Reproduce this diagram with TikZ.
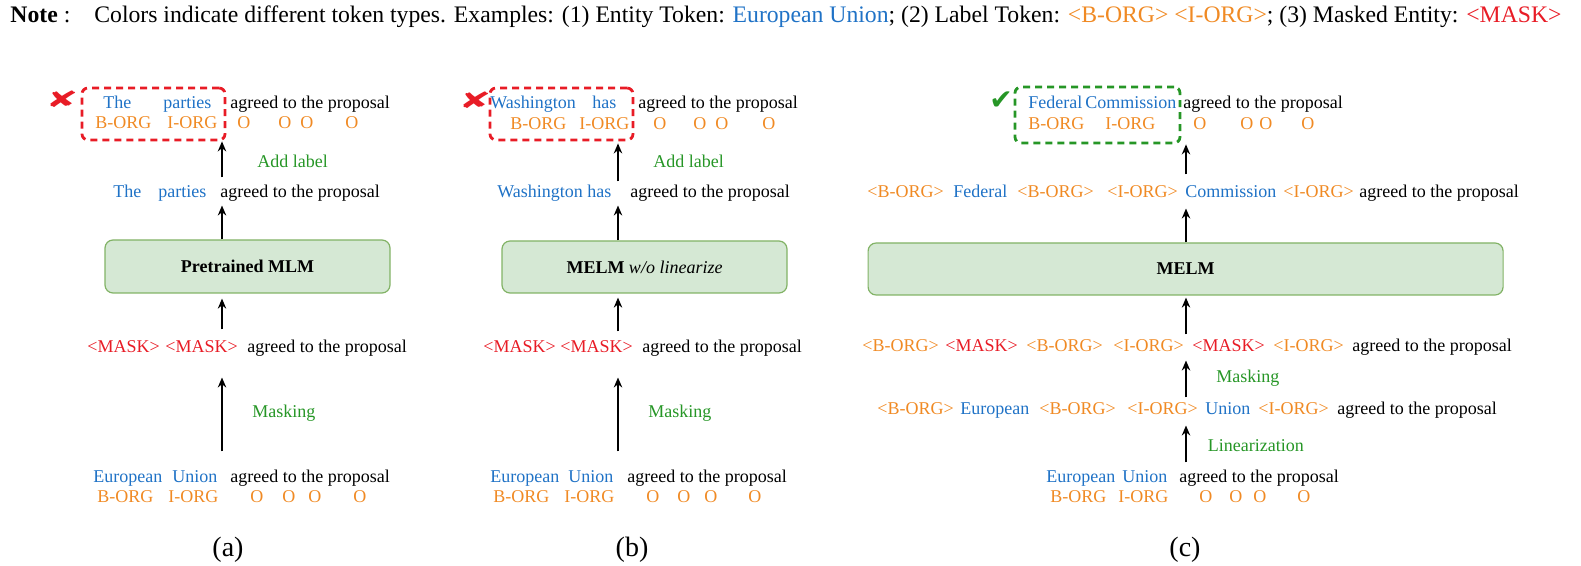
\documentclass[tikz,border=0pt]{standalone}
\usepackage{fontspec}
\setmainfont{Liberation Serif}
\newfontfamily\symfont{DejaVu Sans}
\usetikzlibrary{arrows.meta}
\definecolor{enblue}{RGB}{31,114,198}
\definecolor{laborange}{RGB}{240,138,36}
\definecolor{maskred}{RGB}{232,28,38}
\definecolor{opgreen}{RGB}{38,150,38}
\definecolor{boxfill}{HTML}{D5E8D4}
\definecolor{boxdraw}{HTML}{82B366}
\tikzset{
	tok/.style={anchor=west,inner sep=0pt,text height=6.3pt,text depth=1.8pt},
	oplabel/.style={tok,text=opgreen},
	arr/.style={->,line width=0.8pt},
	mlm/.style={draw=boxdraw,fill=boxfill,rounded corners=4pt,line width=0.6pt},
	wrongbox/.style={draw=maskred,dash pattern=on 3.5pt off 2.5pt,line width=1.4pt,rounded corners=3pt},
	rightbox/.style={wrongbox,draw=opgreen},
	crossmark/.style={text=maskred,font=\symfont\fontsize{14}{14}\selectfont,xscale=1.4,yscale=0.8,inner sep=0pt},
	tickmark/.style={text=opgreen,font=\symfont\fontsize{14}{14}\selectfont,inner sep=0pt},
	caption/.style={font=\fontsize{14}{16}\selectfont,inner sep=0pt}
}
\begin{document}
\begin{tikzpicture}[x=0.5pt,y=-0.5pt,font=\fontsize{9}{11}\selectfont,>={Stealth[length=5pt,width=4.2pt]}]
	\useasboundingbox (0,0) rectangle (1581,566);
	\node[anchor=west,inner sep=0pt,font=\fontsize{11.85}{14}\selectfont] (note) at (10,17) {\textbf{Note}\hspace{3pt}:\hspace*{12pt}Colors indicate different token types. Examples: (1) Entity Token: \textcolor{enblue}{European Union}; (2) Label Token: \textcolor{laborange}{<B-ORG> <I-ORG>}; (3) Masked Entity: \textcolor{maskred}{<MASK>}};

	% (a)
	\coordinate (axa) at (222,0);
	\node[wrongbox,minimum width=71.5pt,minimum height=26pt] (wa) at (153.5,114) {};
	\node[crossmark] (xa) at (62,99) {✘};
	\foreach \x/\col/\txt [count=\i] in {103/enblue/The,163/enblue/parties,230/black/agreed to the proposal}
		\node[tok,text=\col] (a1-\i) at (\x,104) {\txt};
	\foreach \x/\txt [count=\i] in {95/B-ORG,167/I-ORG,237/O,278/O,300/O,345/O}
		\node[tok,text=laborange] (al1-\i) at (\x,124) {\txt};
	\node[oplabel] (adda) at (257,163) {Add label};
	\foreach \x/\col/\txt [count=\i] in {113/enblue/The,158/enblue/parties,220/black/agreed to the proposal}
		\node[tok,text=\col] (a2-\i) at (\x,193) {\txt};
	\node[mlm,minimum width=142.5pt,minimum height=26.5pt] (mlma) at (247.5,266.5) {\textbf{Pretrained MLM}};
	\foreach \x/\col/\txt [count=\i] in {87/maskred/<MASK>,165/maskred/<MASK>,247/black/agreed to the proposal}
		\node[tok,text=\col] (a3-\i) at (\x,348) {\txt};
	\node[oplabel] (maska) at (252,413) {Masking};
	\foreach \x/\col/\txt [count=\i] in {93/enblue/European,172/enblue/Union,230/black/agreed to the proposal}
		\node[tok,text=\col] (a4-\i) at (\x,478) {\txt};
	\foreach \x/\txt [count=\i] in {97/B-ORG,168/I-ORG,250/O,282/O,308/O,353/O}
		\node[tok,text=laborange] (al4-\i) at (\x,498) {\txt};
	\node[caption] (capa) at (228,550) {(a)};
	\draw[arr,shorten <=3.5pt] (a2-1.north -| axa) -- (wa.south -| axa);
	\draw[arr,shorten >=2pt] (mlma.north -| axa) -- (a2-1.south -| axa);
	\draw[arr,shorten <=5pt,shorten >=2.5pt] (a3-1.north -| axa) -- (mlma.south -| axa);
	\draw[arr,shorten <=9pt,shorten >=10.5pt] (a4-1.north -| axa) -- (a3-1.south -| axa);

	% (b)
	\coordinate (axb) at (618,0);
	\node[wrongbox,minimum width=71.5pt,minimum height=26pt] (wb) at (561.5,114) {};
	\node[crossmark] (xb) at (475,100) {✘};
	\foreach \x/\col/\txt [count=\i] in {490/enblue/Washington,592/enblue/has,638/black/agreed to the proposal}
		\node[tok,text=\col] (b1-\i) at (\x,104) {\txt};
	\foreach \x/\txt [count=\i] in {510/B-ORG,579/I-ORG,653/O,693/O,715/O,762/O}
		\node[tok,text=laborange] (bl1-\i) at (\x,125) {\txt};
	\node[oplabel] (addb) at (653,163) {Add label};
	\foreach \x/\col/\txt [count=\i] in {497/enblue/Washington,587/enblue/has,630/black/agreed to the proposal}
		\node[tok,text=\col] (b2-\i) at (\x,193) {\txt};
	\node[mlm,minimum width=142.5pt,minimum height=26pt] (mlmb) at (644.5,267) {\textbf{MELM} \textit{w/o linearize}};
	\foreach \x/\col/\txt [count=\i] in {483/maskred/<MASK>,560/maskred/<MASK>,642/black/agreed to the proposal}
		\node[tok,text=\col] (b3-\i) at (\x,348) {\txt};
	\node[oplabel] (maskb) at (648,413) {Masking};
	\foreach \x/\col/\txt [count=\i] in {490/enblue/European,568/enblue/Union,627/black/agreed to the proposal}
		\node[tok,text=\col] (b4-\i) at (\x,478) {\txt};
	\foreach \x/\txt [count=\i] in {493/B-ORG,564/I-ORG,646/O,677/O,704/O,748/O}
		\node[tok,text=laborange] (bl4-\i) at (\x,498) {\txt};
	\node[caption] (capb) at (632,550) {(b)};
	\draw[arr,shorten <=1.5pt,shorten >=1pt] (b2-1.north -| axb) -- (wb.south -| axb);
	\draw[arr,shorten >=2pt] (mlmb.north -| axb) -- (b2-1.south -| axb);
	\draw[arr,shorten <=4pt,shorten >=2pt] (b3-1.north -| axb) -- (mlmb.south -| axb);
	\draw[arr,shorten <=9pt,shorten >=10.5pt] (b4-1.north -| axb) -- (b3-1.south -| axb);

	% (c)
	\coordinate (axc) at (1186,0);
	\node[rightbox,minimum width=82.5pt,minimum height=28pt] (wc) at (1097.5,115) {};
	\node[tickmark] (okc) at (1001,101) {✔};
	\foreach \x/\col/\txt [count=\i] in {1028/enblue/Federal,1085/enblue/Commission,1183/black/agreed to the proposal}
		\node[tok,text=\col] (c1-\i) at (\x,104) {\txt};
	\foreach \x/\txt [count=\i] in {1028/B-ORG,1105/I-ORG,1193/O,1240/O,1259/O,1301/O}
		\node[tok,text=laborange] (cl1-\i) at (\x,125) {\txt};
	\foreach \x/\col/\txt [count=\i] in {867/laborange/<B-ORG>,953/enblue/Federal,1017/laborange/<B-ORG>,1107/laborange/<I-ORG>,1185/enblue/Commission,1283/laborange/<I-ORG>,1359/black/agreed to the proposal}
		\node[tok,text=\col] (c2-\i) at (\x,193) {\txt};
	\node[mlm,minimum width=317.5pt,minimum height=26pt] (mlmc) at (1185.6,269) {\textbf{MELM}};
	\foreach \x/\col/\txt [count=\i] in {862/laborange/<B-ORG>,945/maskred/<MASK>,1026/laborange/<B-ORG>,1113/laborange/<I-ORG>,1192/maskred/<MASK>,1273/laborange/<I-ORG>,1352/black/agreed to the proposal}
		\node[tok,text=\col] (c3-\i) at (\x,347) {\txt};
	\node[oplabel] (maskc) at (1216,378) {Masking};
	\foreach \x/\col/\txt [count=\i] in {877/laborange/<B-ORG>,960/enblue/European,1039/laborange/<B-ORG>,1127/laborange/<I-ORG>,1205/enblue/Union,1258/laborange/<I-ORG>,1337/black/agreed to the proposal}
		\node[tok,text=\col] (c4-\i) at (\x,410) {\txt};
	\node[oplabel] (linc) at (1207.5,447) {Linearization};
	\foreach \x/\col/\txt [count=\i] in {1046/enblue/European,1122/enblue/Union,1179/black/agreed to the proposal}
		\node[tok,text=\col] (c5-\i) at (\x,478) {\txt};
	\foreach \x/\txt [count=\i] in {1050/B-ORG,1118/I-ORG,1199/O,1229/O,1253/O,1297/O}
		\node[tok,text=laborange] (cl5-\i) at (\x,498) {\txt};
	\node[caption] (capc) at (1185,550) {(c)};
	\draw[arr,shorten <=5pt] (c2-1.north -| axc) -- (wc.south -| axc);
	\draw[arr,shorten >=3.5pt] (mlmc.north -| axc) -- (c2-1.south -| axc);
	\draw[arr,shorten <=2pt,shorten >=1pt] (c3-1.north -| axc) -- (mlmc.south -| axc);
	\draw[arr,shorten <=2pt,shorten >=2.5pt] (c4-1.north -| axc) -- (c3-1.south -| axc);
	\draw[arr,shorten <=3.5pt,shorten >=3.5pt] (c5-1.north -| axc) -- (c4-1.south -| axc);
\end{tikzpicture}
\end{document}
